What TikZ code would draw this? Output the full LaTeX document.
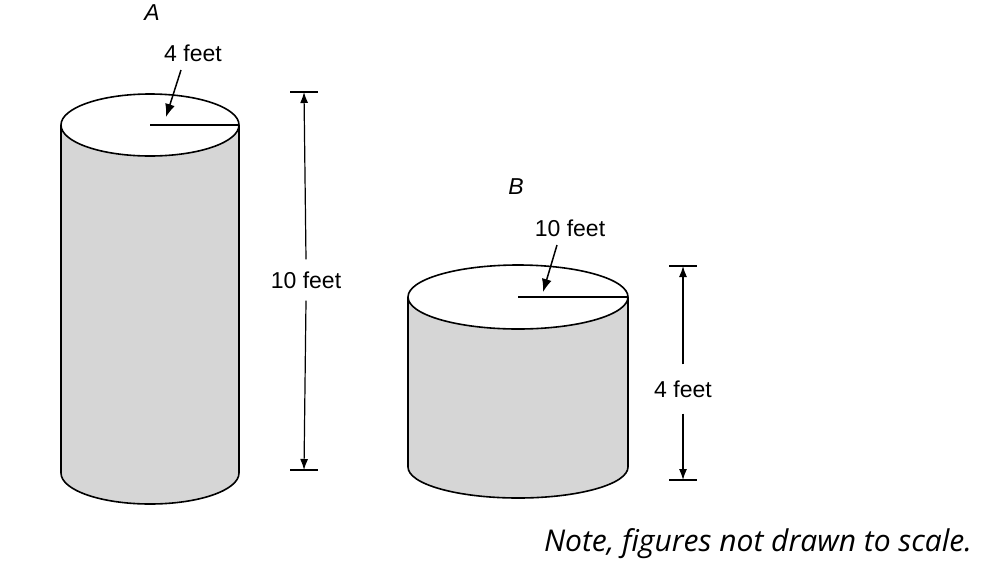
\documentclass[tikz,border=0pt]{standalone}
\usepackage{fontspec}
\usetikzlibrary{arrows.meta}
\setmainfont{Liberation Sans}
\newfontfamily\notefont{Open Sans}
\begin{document}
\begin{tikzpicture}[x=1pt,y=-1pt,
  lbl/.style={font=\fontsize{23}{26}\selectfont, inner sep=1pt},
  dim/.style={line width=1.2pt,-{Latex[length=11pt,width=8pt]}},
  edge/.style={line width=1.6pt}]
\useasboundingbox (0,0) rectangle (1000,566);
% Cylinder A
\fill[gray!32] (61,125) -- (61,473) arc[start angle=180,end angle=360,x radius=89,y radius=-31] -- (239,125) -- cycle;
\draw[edge] (61,125) -- (61,473) arc[start angle=180,end angle=360,x radius=89,y radius=-31] -- (239,125);
\draw[edge,fill=white] (150,125) ellipse[x radius=89,y radius=31];
\coordinate (ca) at (150,125); \coordinate (ra) at (239,125);
\draw[edge] (ca) -- (ra);
\node[lbl,font=\fontsize{23}{26}\selectfont\itshape] (A) at (152,13) {A};
\node[lbl] (la) at (193,53) {4 feet};
\coordinate (pa) at (166,117);
\draw[line width=1.5pt,-{Latex[length=13pt,width=10pt]}] (181,70) -- (pa);
% dimension A
\coordinate (ta) at (304,92); \coordinate (ba) at (304,470);
\draw[line width=1.2pt] (290,92) -- (318,92) (290,470) -- (318,470);
\node[lbl,fill=white,inner ysep=12pt] (ha) at (306,280) {10 feet};
\draw[dim] (ha.north) -- (ta);
\draw[dim] (ha.south) -- (ba);
% Cylinder B
\fill[gray!32] (408,297) -- (408,467) arc[start angle=180,end angle=360,x radius=110,y radius=-31] -- (628,297) -- cycle;
\draw[edge] (408,297) -- (408,467) arc[start angle=180,end angle=360,x radius=110,y radius=-31] -- (628,297);
\draw[edge,fill=white] (518,297) ellipse[x radius=110,y radius=32];
\coordinate (cb) at (518,297); \coordinate (rb) at (628,297);
\draw[edge] (cb) -- (rb);
\node[lbl,font=\fontsize{23}{26}\selectfont\itshape] (B) at (516,187) {B};
\node[lbl] (lb) at (570,228) {10 feet};
\coordinate (pb) at (543,292);
\draw[line width=1.5pt,-{Latex[length=13pt,width=10pt]}] (557,245) -- (pb);
% dimension B
\coordinate (tb) at (683,266); \coordinate (bb) at (683,480);
\draw[line width=1.2pt] (669,266) -- (697,266) (669,480) -- (697,480);
\node[lbl,fill=white,inner ysep=16pt] (hb) at (683,389) {4 feet};
\draw[dim] (hb.north) -- (tb);
\draw[dim] (hb.south) -- (bb);
% note
\node[font=\notefont\itshape\fontsize{30}{34}\selectfont] (note) at (758,544) {Note, figures not drawn to scale.};
\end{tikzpicture}
\end{document}
